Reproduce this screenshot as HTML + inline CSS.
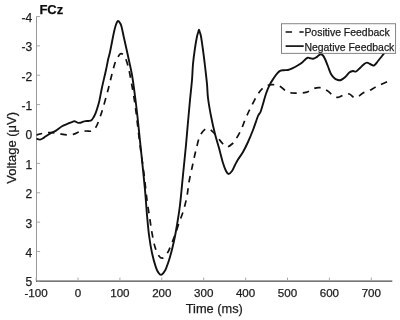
<!DOCTYPE html>
<html><head><meta charset="utf-8"><title>FCz</title>
<style>html,body{margin:0;padding:0;background:#fff}svg{display:block}text{font-family:"Liberation Sans",sans-serif;fill:#1c1c1c;stroke:#1c1c1c;stroke-width:0.25px}</style></head><body>
<svg width="400" height="320" viewBox="0 0 400 320">
<rect width="400" height="320" fill="#fff"/>
<g stroke="#9a9a9a" stroke-width="1" fill="none">
<path d="M36.50,16.2 V281.50"/>
<path d="M36.00,281.15 H392.3" stroke="#4a4a4a" stroke-width="1.1"/>
<path d="M36.10,280.60 v-3" stroke="#a8a8a8"/>
<path d="M78.00,280.60 v-3" stroke="#a8a8a8"/>
<path d="M119.90,280.60 v-3" stroke="#a8a8a8"/>
<path d="M161.80,280.60 v-3" stroke="#a8a8a8"/>
<path d="M203.70,280.60 v-3" stroke="#a8a8a8"/>
<path d="M245.60,280.60 v-3" stroke="#a8a8a8"/>
<path d="M287.50,280.60 v-3" stroke="#a8a8a8"/>
<path d="M329.40,280.60 v-3" stroke="#a8a8a8"/>
<path d="M371.30,280.60 v-3" stroke="#a8a8a8"/>
<path d="M36.90,16.48 h3.2" stroke="#a8a8a8"/>
<path d="M36.90,45.86 h3.2" stroke="#a8a8a8"/>
<path d="M36.90,75.24 h3.2" stroke="#a8a8a8"/>
<path d="M36.90,104.62 h3.2" stroke="#a8a8a8"/>
<path d="M36.90,134.00 h3.2" stroke="#a8a8a8"/>
<path d="M36.90,163.38 h3.2" stroke="#a8a8a8"/>
<path d="M36.90,192.76 h3.2" stroke="#a8a8a8"/>
<path d="M36.90,222.14 h3.2" stroke="#a8a8a8"/>
<path d="M36.90,251.52 h3.2" stroke="#a8a8a8"/>
<path d="M36.90,280.90 h3.2" stroke="#a8a8a8"/>
</g>
<g font-size="11.6px">
<text x="36.10" y="297.4" text-anchor="middle">-100</text>
<text x="78.00" y="297.4" text-anchor="middle">0</text>
<text x="119.90" y="297.4" text-anchor="middle">100</text>
<text x="161.80" y="297.4" text-anchor="middle">200</text>
<text x="203.70" y="297.4" text-anchor="middle">300</text>
<text x="245.60" y="297.4" text-anchor="middle">400</text>
<text x="287.50" y="297.4" text-anchor="middle">500</text>
<text x="329.40" y="297.4" text-anchor="middle">600</text>
<text x="371.30" y="297.4" text-anchor="middle">700</text>
<text x="32.1" y="21.68" text-anchor="end" font-size="12px">-4</text>
<text x="32.1" y="51.09" text-anchor="end" font-size="12px">-3</text>
<text x="32.1" y="80.50" text-anchor="end" font-size="12px">-2</text>
<text x="32.1" y="109.91" text-anchor="end" font-size="12px">-1</text>
<text x="32.1" y="139.32" text-anchor="end" font-size="12px">0</text>
<text x="32.1" y="168.73" text-anchor="end" font-size="12px">1</text>
<text x="32.1" y="198.14" text-anchor="end" font-size="12px">2</text>
<text x="32.1" y="227.55" text-anchor="end" font-size="12px">3</text>
<text x="32.1" y="256.96" text-anchor="end" font-size="12px">4</text>
<text x="32.1" y="286.37" text-anchor="end" font-size="12px">5</text>
</g>
<text x="214.3" y="313.3" font-size="12.8px" text-anchor="middle">Time (ms)</text>
<text transform="translate(16.3,147.8) rotate(-90)" font-size="13px" text-anchor="middle">Voltage (μV)</text>
<text x="39.4" y="14.45" font-size="13px" font-weight="bold" style="fill:#0a0a0a">FCz</text>
<path d="M36.50,135.00 C37.42,134.75 39.75,133.92 42.00,133.50 C44.25,133.08 47.33,132.50 50.00,132.50 C52.67,132.50 55.17,133.10 58.00,133.50 C60.83,133.90 64.33,134.80 67.00,134.90 C69.67,135.00 71.83,134.67 74.00,134.10 C76.17,133.53 78.00,132.02 80.00,131.50 C82.00,130.98 84.00,131.08 86.00,131.00 C88.00,130.92 90.33,131.67 92.00,131.00 C93.67,130.33 94.83,128.83 96.00,127.00 C97.17,125.17 97.83,123.17 99.00,120.00 C100.17,116.83 101.50,113.00 103.00,108.00 C104.50,103.00 106.50,95.67 108.00,90.00 C109.50,84.33 110.83,78.50 112.00,74.00 C113.17,69.50 114.00,65.83 115.00,63.00 C116.00,60.17 117.08,58.53 118.00,57.00 C118.92,55.47 119.67,54.23 120.50,53.80 C121.33,53.37 122.25,53.78 123.00,54.40 C123.75,55.02 124.42,56.40 125.00,57.50 C125.58,58.60 125.83,58.92 126.50,61.00 C127.17,63.08 128.08,65.83 129.00,70.00 C129.92,74.17 131.00,80.33 132.00,86.00 C133.00,91.67 134.17,98.33 135.00,104.00 C135.83,109.67 136.17,113.17 137.00,120.00 C137.83,126.83 138.83,136.00 140.00,145.00 C141.17,154.00 142.83,164.83 144.00,174.00 C145.17,183.17 146.00,192.33 147.00,200.00 C148.00,207.67 149.17,214.50 150.00,220.00 C150.83,225.50 151.17,228.50 152.00,233.00 C152.83,237.50 153.83,243.17 155.00,247.00 C156.17,250.83 157.67,254.17 159.00,256.00 C160.33,257.83 161.50,258.67 163.00,258.00 C164.50,257.33 166.67,254.17 168.00,252.00 C169.33,249.83 169.83,247.83 171.00,245.00 C172.17,242.17 173.67,238.67 175.00,235.00 C176.33,231.33 177.57,227.17 179.00,223.00 C180.43,218.83 182.27,214.50 183.60,210.00 C184.93,205.50 186.10,200.67 187.00,196.00 C187.90,191.33 188.10,187.00 189.00,182.00 C189.90,177.00 191.40,170.67 192.40,166.00 C193.40,161.33 194.32,157.00 195.00,154.00 C195.68,151.00 195.83,150.58 196.50,148.00 C197.17,145.42 197.92,141.30 199.00,138.50 C200.08,135.70 201.50,132.85 203.00,131.20 C204.50,129.55 206.33,128.47 208.00,128.60 C209.67,128.73 211.33,130.43 213.00,132.00 C214.67,133.57 216.33,136.00 218.00,138.00 C219.67,140.00 221.50,142.50 223.00,144.00 C224.50,145.50 225.50,147.00 227.00,147.00 C228.50,147.00 230.50,145.33 232.00,144.00 C233.50,142.67 234.50,141.33 236.00,139.00 C237.50,136.67 239.50,133.17 241.00,130.00 C242.50,126.83 243.67,123.17 245.00,120.00 C246.33,116.83 247.67,113.83 249.00,111.00 C250.33,108.17 251.50,105.83 253.00,103.00 C254.50,100.17 256.33,96.50 258.00,94.00 C259.67,91.50 261.17,89.50 263.00,88.00 C264.83,86.50 266.83,85.50 269.00,85.00 C271.17,84.50 274.00,84.67 276.00,85.00 C278.00,85.33 279.33,86.00 281.00,87.00 C282.67,88.00 284.17,90.00 286.00,91.00 C287.83,92.00 290.00,92.67 292.00,93.00 C294.00,93.33 295.67,93.10 298.00,93.00 C300.33,92.90 303.33,93.15 306.00,92.40 C308.67,91.65 311.67,89.28 314.00,88.50 C316.33,87.72 317.83,87.35 320.00,87.70 C322.17,88.05 324.92,89.38 327.00,90.60 C329.08,91.82 330.67,93.87 332.50,95.00 C334.33,96.13 336.12,97.40 338.00,97.40 C339.88,97.40 341.85,95.57 343.75,95.00 C345.65,94.43 347.69,93.60 349.40,94.00 C351.11,94.40 352.50,97.03 354.00,97.40 C355.50,97.78 356.90,96.98 358.40,96.25 C359.90,95.52 361.13,93.94 363.00,93.00 C364.87,92.06 367.56,91.56 369.60,90.60 C371.64,89.64 373.18,88.35 375.25,87.25 C377.32,86.15 379.75,85.04 382.00,84.00 C384.25,82.96 387.08,81.75 388.75,81.00 C390.42,80.25 391.46,79.75 392.00,79.50" fill="none" stroke="#111" stroke-width="1.7" stroke-dasharray="6.5,5.92" stroke-dashoffset="0.6" stroke-linejoin="round"/>
<path d="M36.50,138.60 C37.08,138.77 38.75,139.77 40.00,139.60 C41.25,139.43 42.33,138.60 44.00,137.60 C45.67,136.60 48.00,134.77 50.00,133.60 C52.00,132.43 54.00,131.83 56.00,130.60 C58.00,129.37 60.00,127.37 62.00,126.20 C64.00,125.03 66.17,124.37 68.00,123.60 C69.83,122.83 71.83,121.98 73.00,121.60 C74.17,121.22 74.17,121.10 75.00,121.30 C75.83,121.50 77.08,122.57 78.00,122.80 C78.92,123.03 79.75,122.85 80.50,122.70 C81.25,122.55 81.65,122.17 82.50,121.90 C83.35,121.63 84.56,121.25 85.60,121.10 C86.64,120.95 87.77,121.15 88.75,121.00 C89.73,120.85 90.69,120.83 91.50,120.20 C92.31,119.57 92.92,118.38 93.60,117.20 C94.28,116.02 94.95,114.72 95.60,113.10 C96.25,111.48 96.87,109.58 97.50,107.50 C98.13,105.42 98.65,103.93 99.40,100.60 C100.15,97.27 100.90,92.60 102.00,87.50 C103.10,82.40 105.00,74.58 106.00,70.00 C107.00,65.42 107.33,63.00 108.00,60.00 C108.67,57.00 109.00,56.67 110.00,52.00 C111.00,47.33 113.00,36.58 114.00,32.00 C115.00,27.42 115.33,26.33 116.00,24.50 C116.67,22.67 117.33,21.25 118.00,21.00 C118.67,20.75 119.42,22.08 120.00,23.00 C120.58,23.92 120.83,24.00 121.50,26.50 C122.17,29.00 122.92,33.08 124.00,38.00 C125.08,42.92 126.67,49.83 128.00,56.00 C129.33,62.17 130.83,68.33 132.00,75.00 C133.17,81.67 134.10,89.17 135.00,96.00 C135.90,102.83 136.57,108.50 137.40,116.00 C138.23,123.50 139.23,133.67 140.00,141.00 C140.77,148.33 141.17,151.83 142.00,160.00 C142.83,168.17 144.17,180.83 145.00,190.00 C145.83,199.17 146.33,207.50 147.00,215.00 C147.67,222.50 148.17,228.67 149.00,235.00 C149.83,241.33 150.83,247.57 152.00,253.00 C153.17,258.43 154.88,264.27 156.00,267.60 C157.12,270.93 157.87,271.78 158.70,273.00 C159.53,274.22 160.20,274.93 161.00,274.90 C161.80,274.87 162.67,273.85 163.50,272.80 C164.33,271.75 164.92,271.23 166.00,268.60 C167.08,265.97 168.67,261.60 170.00,257.00 C171.33,252.40 172.83,246.33 174.00,241.00 C175.17,235.67 176.00,231.00 177.00,225.00 C178.00,219.00 179.00,213.33 180.00,205.00 C181.00,196.67 182.00,185.00 183.00,175.00 C184.00,165.00 185.17,153.83 186.00,145.00 C186.83,136.17 187.33,129.50 188.00,122.00 C188.67,114.50 189.33,107.00 190.00,100.00 C190.67,93.00 191.50,86.00 192.00,80.00 C192.50,74.00 192.50,69.33 193.00,64.00 C193.50,58.67 194.33,52.58 195.00,48.00 C195.67,43.42 196.45,39.17 197.00,36.50 C197.55,33.83 197.97,33.15 198.30,32.00 C198.63,30.85 198.77,29.60 199.00,29.60 C199.23,29.60 199.37,30.85 199.70,32.00 C200.03,33.15 200.45,33.50 201.00,36.50 C201.55,39.50 202.33,45.08 203.00,50.00 C203.67,54.92 204.33,60.33 205.00,66.00 C205.67,71.67 206.50,78.67 207.00,84.00 C207.50,89.33 207.33,92.67 208.00,98.00 C208.67,103.33 209.83,110.00 211.00,116.00 C212.17,122.00 213.67,128.67 215.00,134.00 C216.33,139.33 217.67,143.17 219.00,148.00 C220.33,152.83 221.83,159.17 223.00,163.00 C224.17,166.83 225.07,169.17 226.00,171.00 C226.93,172.83 227.60,174.00 228.60,174.00 C229.60,174.00 230.93,172.50 232.00,171.00 C233.07,169.50 234.00,166.92 235.00,165.00 C236.00,163.08 236.67,161.67 238.00,159.50 C239.33,157.33 241.33,154.92 243.00,152.00 C244.67,149.08 246.33,145.67 248.00,142.00 C249.67,138.33 251.33,134.33 253.00,130.00 C254.67,125.67 256.75,119.00 258.00,116.00 C259.25,113.00 259.67,114.00 260.50,112.00 C261.33,110.00 262.08,107.05 263.00,104.00 C263.92,100.95 264.88,96.92 266.00,93.70 C267.12,90.48 268.50,87.23 269.75,84.70 C271.00,82.17 272.25,80.38 273.50,78.50 C274.75,76.62 276.08,74.70 277.25,73.40 C278.42,72.10 279.38,71.23 280.50,70.70 C281.62,70.17 282.75,70.32 284.00,70.20 C285.25,70.08 286.62,70.30 288.00,70.00 C289.38,69.70 290.58,69.18 292.25,68.40 C293.92,67.62 296.29,66.33 298.00,65.30 C299.71,64.27 301.25,63.22 302.50,62.20 C303.75,61.18 304.62,59.95 305.50,59.20 C306.38,58.45 307.00,57.87 307.75,57.70 C308.50,57.53 309.12,58.03 310.00,58.20 C310.88,58.37 312.00,58.82 313.00,58.70 C314.00,58.58 315.12,57.98 316.00,57.50 C316.88,57.02 317.50,56.33 318.25,55.80 C319.00,55.27 319.75,54.39 320.50,54.30 C321.25,54.21 322.00,54.47 322.75,55.25 C323.50,56.03 324.12,57.12 325.00,59.00 C325.88,60.88 327.00,64.00 328.00,66.50 C329.00,69.00 329.88,72.00 331.00,74.00 C332.12,76.00 333.58,77.50 334.75,78.50 C335.92,79.50 336.96,79.75 338.00,80.00 C339.04,80.25 339.83,80.45 341.00,80.00 C342.17,79.55 343.57,78.58 345.00,77.30 C346.43,76.02 348.27,73.35 349.60,72.30 C350.93,71.25 351.93,71.13 353.00,71.00 C354.07,70.87 354.83,72.00 356.00,71.50 C357.17,71.00 358.67,69.22 360.00,68.00 C361.33,66.78 362.83,65.10 364.00,64.20 C365.17,63.30 366.00,62.63 367.00,62.60 C368.00,62.57 368.83,63.52 370.00,64.00 C371.17,64.48 372.67,66.00 374.00,65.50 C375.33,65.00 376.67,62.58 378.00,61.00 C379.33,59.42 380.67,57.67 382.00,56.00 C383.33,54.33 384.33,53.08 386.00,51.00 C387.67,48.92 391.00,44.75 392.00,43.50" fill="none" stroke="#111" stroke-width="1.9" stroke-linejoin="round"/>
<rect x="281.5" y="23.75" width="114.1" height="29.6" fill="#fff" stroke="#777" stroke-width="0.9"/>
<path d="M285.6,32 H303.7" stroke="#111" stroke-width="1.7" stroke-dasharray="6.5,7.25" fill="none"/>
<path d="M285.6,46.1 H303.7" stroke="#111" stroke-width="1.7" fill="none"/>
<text x="304.4" y="36.2" font-size="10.45px">Positive Feedback</text>
<text x="304.4" y="50.5" font-size="10.45px">Negative Feedback</text>
</svg></body></html>
